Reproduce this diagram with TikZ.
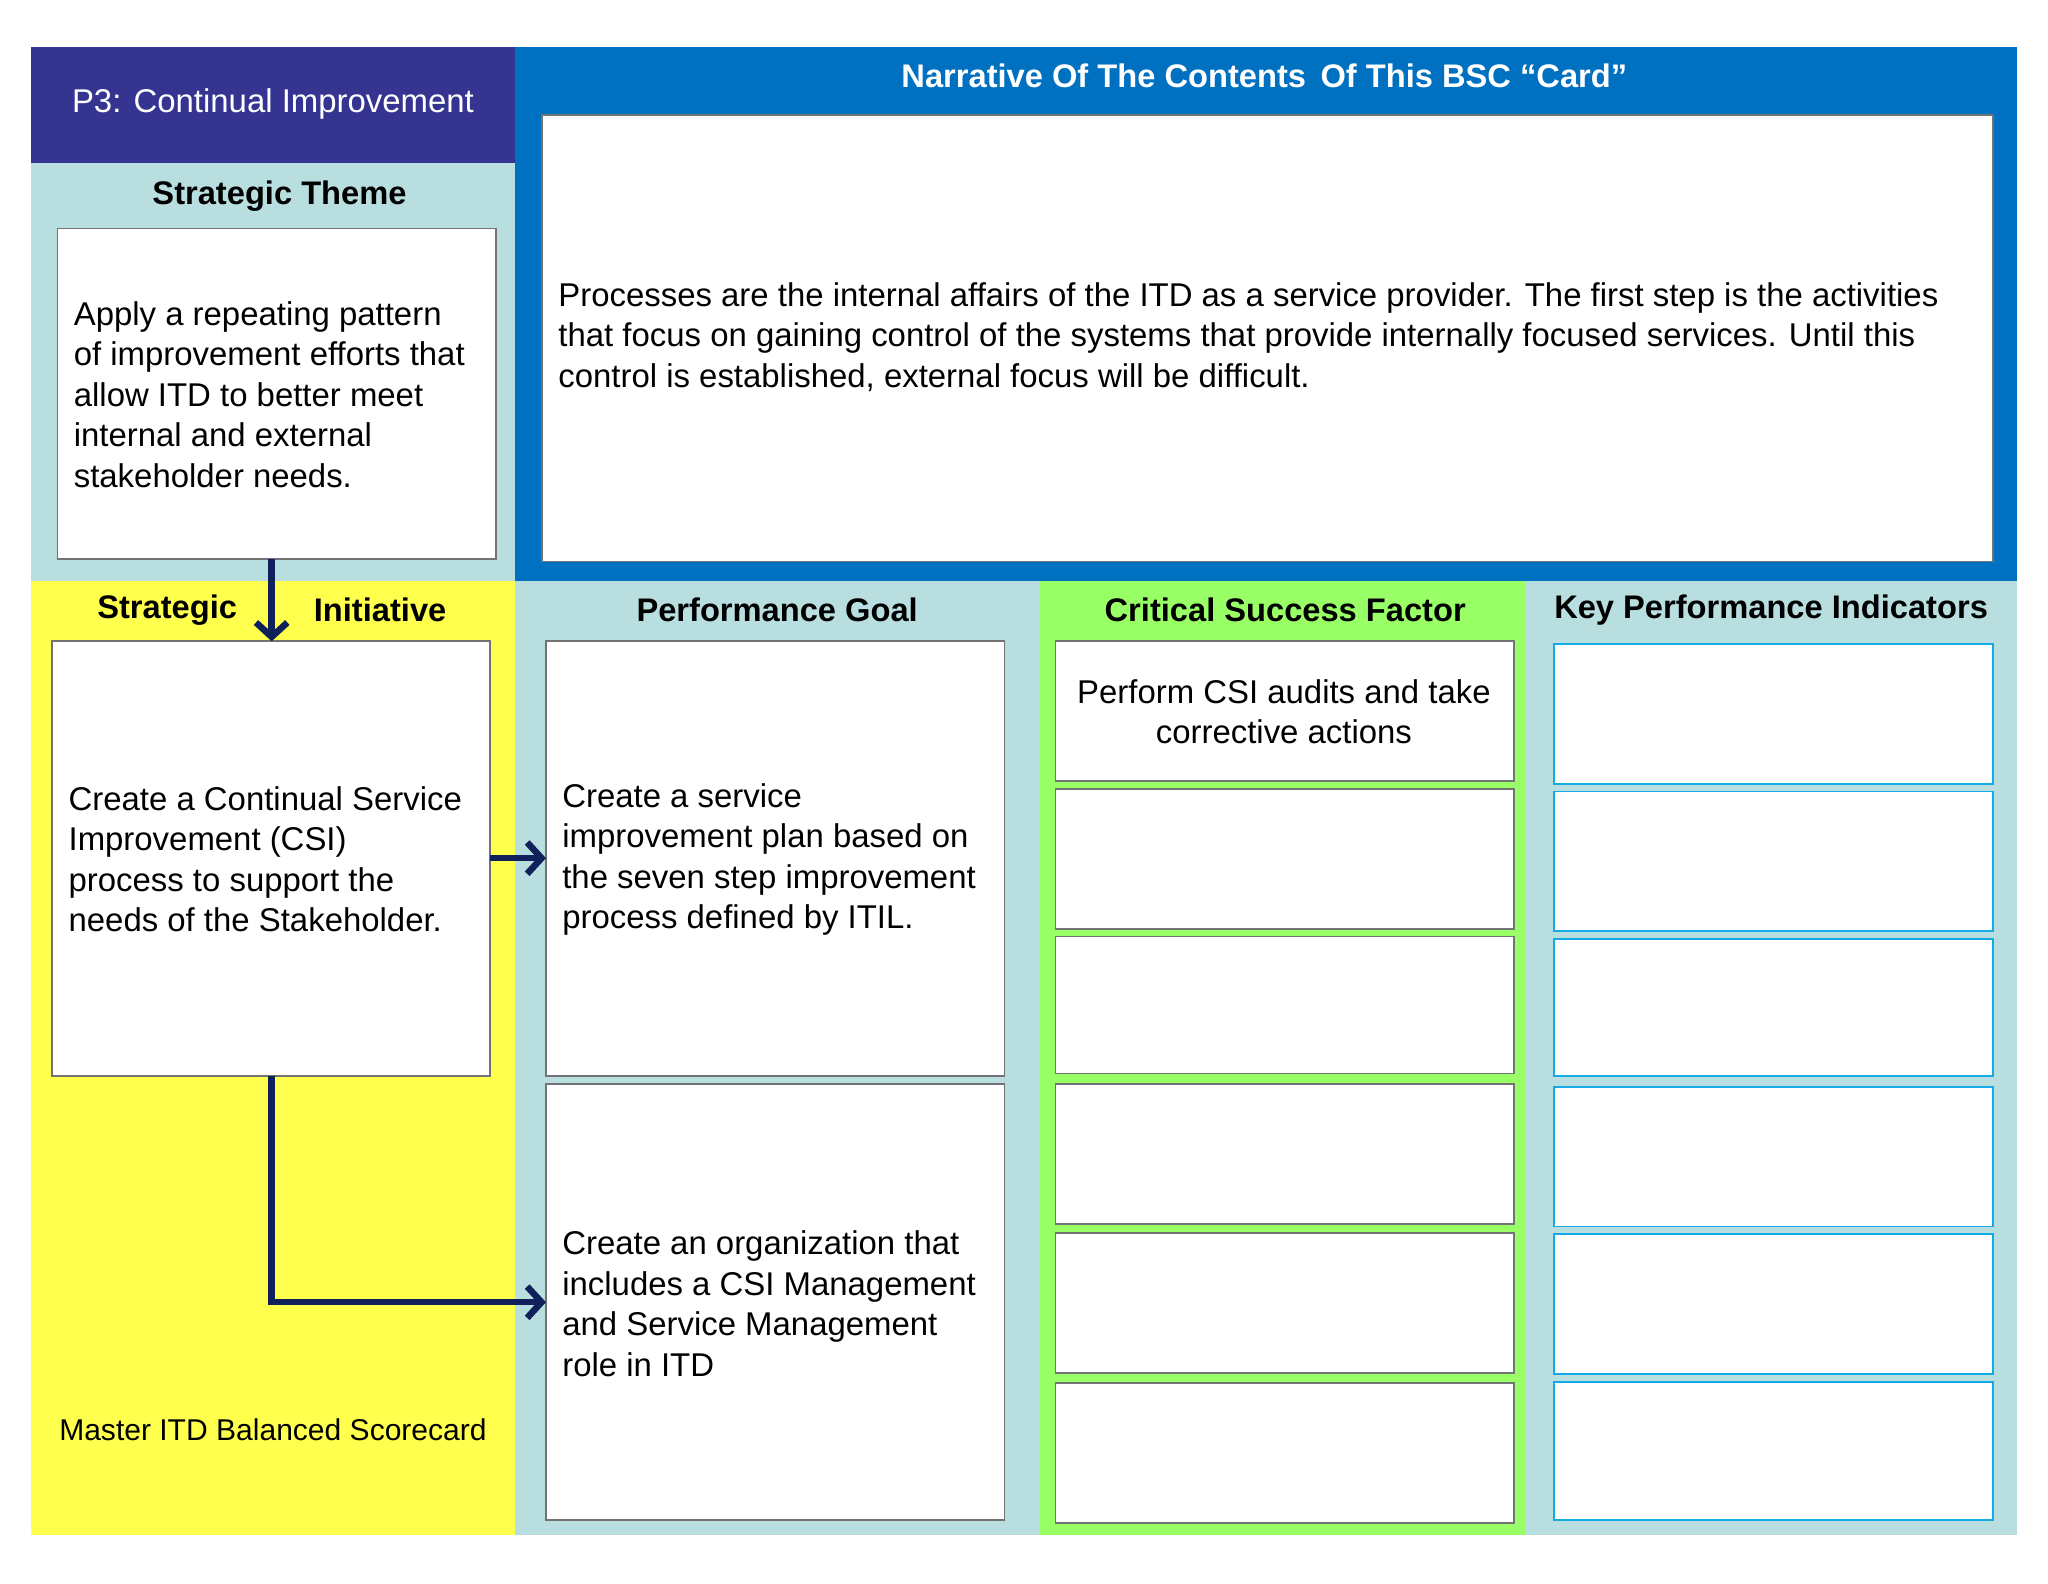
\documentclass[tikz,border=0pt]{standalone}
\usepackage{fontspec}
\setmainfont{Liberation Sans}
\usetikzlibrary{positioning,arrows.meta}
\definecolor{bscpurple}{RGB}{53,52,145}
\definecolor{bscblue}{RGB}{0,112,192}
\definecolor{bsclight}{RGB}{184,222,224}
\definecolor{bscyellow}{RGB}{255,255,77}
\definecolor{bscgreen}{RGB}{153,255,102}
\definecolor{bscnavy}{RGB}{16,32,90}
\definecolor{bsccyan}{RGB}{20,170,230}
\tikzset{
  card/.style={draw=gray!90!black, line width=1.3pt, fill=white},
  kpi/.style={draw=bsccyan, line width=1.3pt, fill=white},
  head/.style={font=\fontsize{25}{28}\selectfont\bfseries},
  body/.style={font=\fontsize{25.2}{31}\selectfont, align=left},
  link/.style={->, line width=5pt, draw=bscnavy, >={Straight Barb[length=11pt,width=24pt]}},
}
\begin{document}
\begin{tikzpicture}[x=1pt,y=-1pt]
\useasboundingbox (0,0) rectangle (1568,1212);
\fill[white] (0,0) rectangle (1568,1212);
% background panels
\fill[bscpurple] (24,36) rectangle (394,125);
\fill[bsclight] (24,125) rectangle (394,445);
\fill[bscblue] (394,36) rectangle (1544,445);
\fill[bscyellow] (24,445) rectangle (394,1175);
\fill[bsclight] (394,445) rectangle (796,1175);
\fill[bscgreen] (796,445) rectangle (1168,1175);
\fill[bsclight] (1168,445) rectangle (1544,1175);
% headers
\node[font=\fontsize{25.2}{28}\selectfont, text=white] (title) at (209,80) {P3: Continual Improvement};
\node[head, text=white] (narhead) at (968,58) {Narrative Of The Contents \,Of This BSC “Card”};
\node[head] (themehead) at (214,150) {Strategic Theme};
\node[head] (inihead1) at (128,467) {Strategic};
\node[head] (inihead2) at (291,467) {Initiative};
\node[head] (pghead) at (595,467) {Performance Goal};
\node[head] (csfhead) at (984,467) {Critical Success Factor};
\node[head] (kpihead) at (1356,467) {Key Performance Indicators};
% boxes
\draw[card] (415,88) rectangle (1526,430);
\node[body, anchor=west] (narr) at (424,258) {Processes are the internal affairs of the ITD as a service provider. The first step is the activities\\that focus on gaining control of the systems that provide internally focused services. Until this\\control is established, external focus will be difficult.};
\draw[card] (44,175) rectangle (380,428);
\node[body, anchor=west] (theme) at (53,302) {Apply a repeating pattern\\of improvement efforts that\\allow ITD to better meet\\internal and external\\stakeholder needs.};
\coordinate (themebot) at (208,428);
\draw[card] (40,491) rectangle (375,824);
\node[body, anchor=west] (init) at (49,658) {Create a Continual Service\\Improvement (CSI)\\process to support the\\needs of the Stakeholder.};
\coordinate (inibot) at (208,824);
\coordinate (initop) at (208,491);
\coordinate (iniright) at (375,657);
\draw[card] (418,491) rectangle (769,824);
\node[body, anchor=west] (pgone) at (427,658) {Create a service\\improvement plan based on\\the seven step improvement\\process defined by ITIL.};
\coordinate (pgoneleft) at (418,657);
\draw[card] (418,830) rectangle (769,1164);
\node[body, anchor=west] (pgtwo) at (427,998) {Create an organization that\\includes a CSI Management\\and Service Management\\role in ITD};
\coordinate (pgtwoleft) at (418,997);
% critical success factors
\foreach \t/\b in {491/598,604/711,717/822,830/937,944/1051,1059/1166}
  \draw[card] (808,\t) rectangle (1159,\b);
\node[body, align=center] (csfone) at (983,545) {Perform CSI audits and take\\corrective actions};
% key performance indicators
\foreach \t/\b in {493/600,606/713,719/824,832/939,945/1052,1058/1164}
  \draw[kpi] (1190,\t) rectangle (1526,\b);
% arrows
\draw[link] (themebot) -- (initop);
\draw[link] (iniright) -- (pgoneleft);
\draw[link] (inibot) |- (pgtwoleft);
\node[font=\fontsize{23}{26}\selectfont] (footer) at (209,1095) {Master ITD Balanced Scorecard};
\end{tikzpicture}
\end{document}
